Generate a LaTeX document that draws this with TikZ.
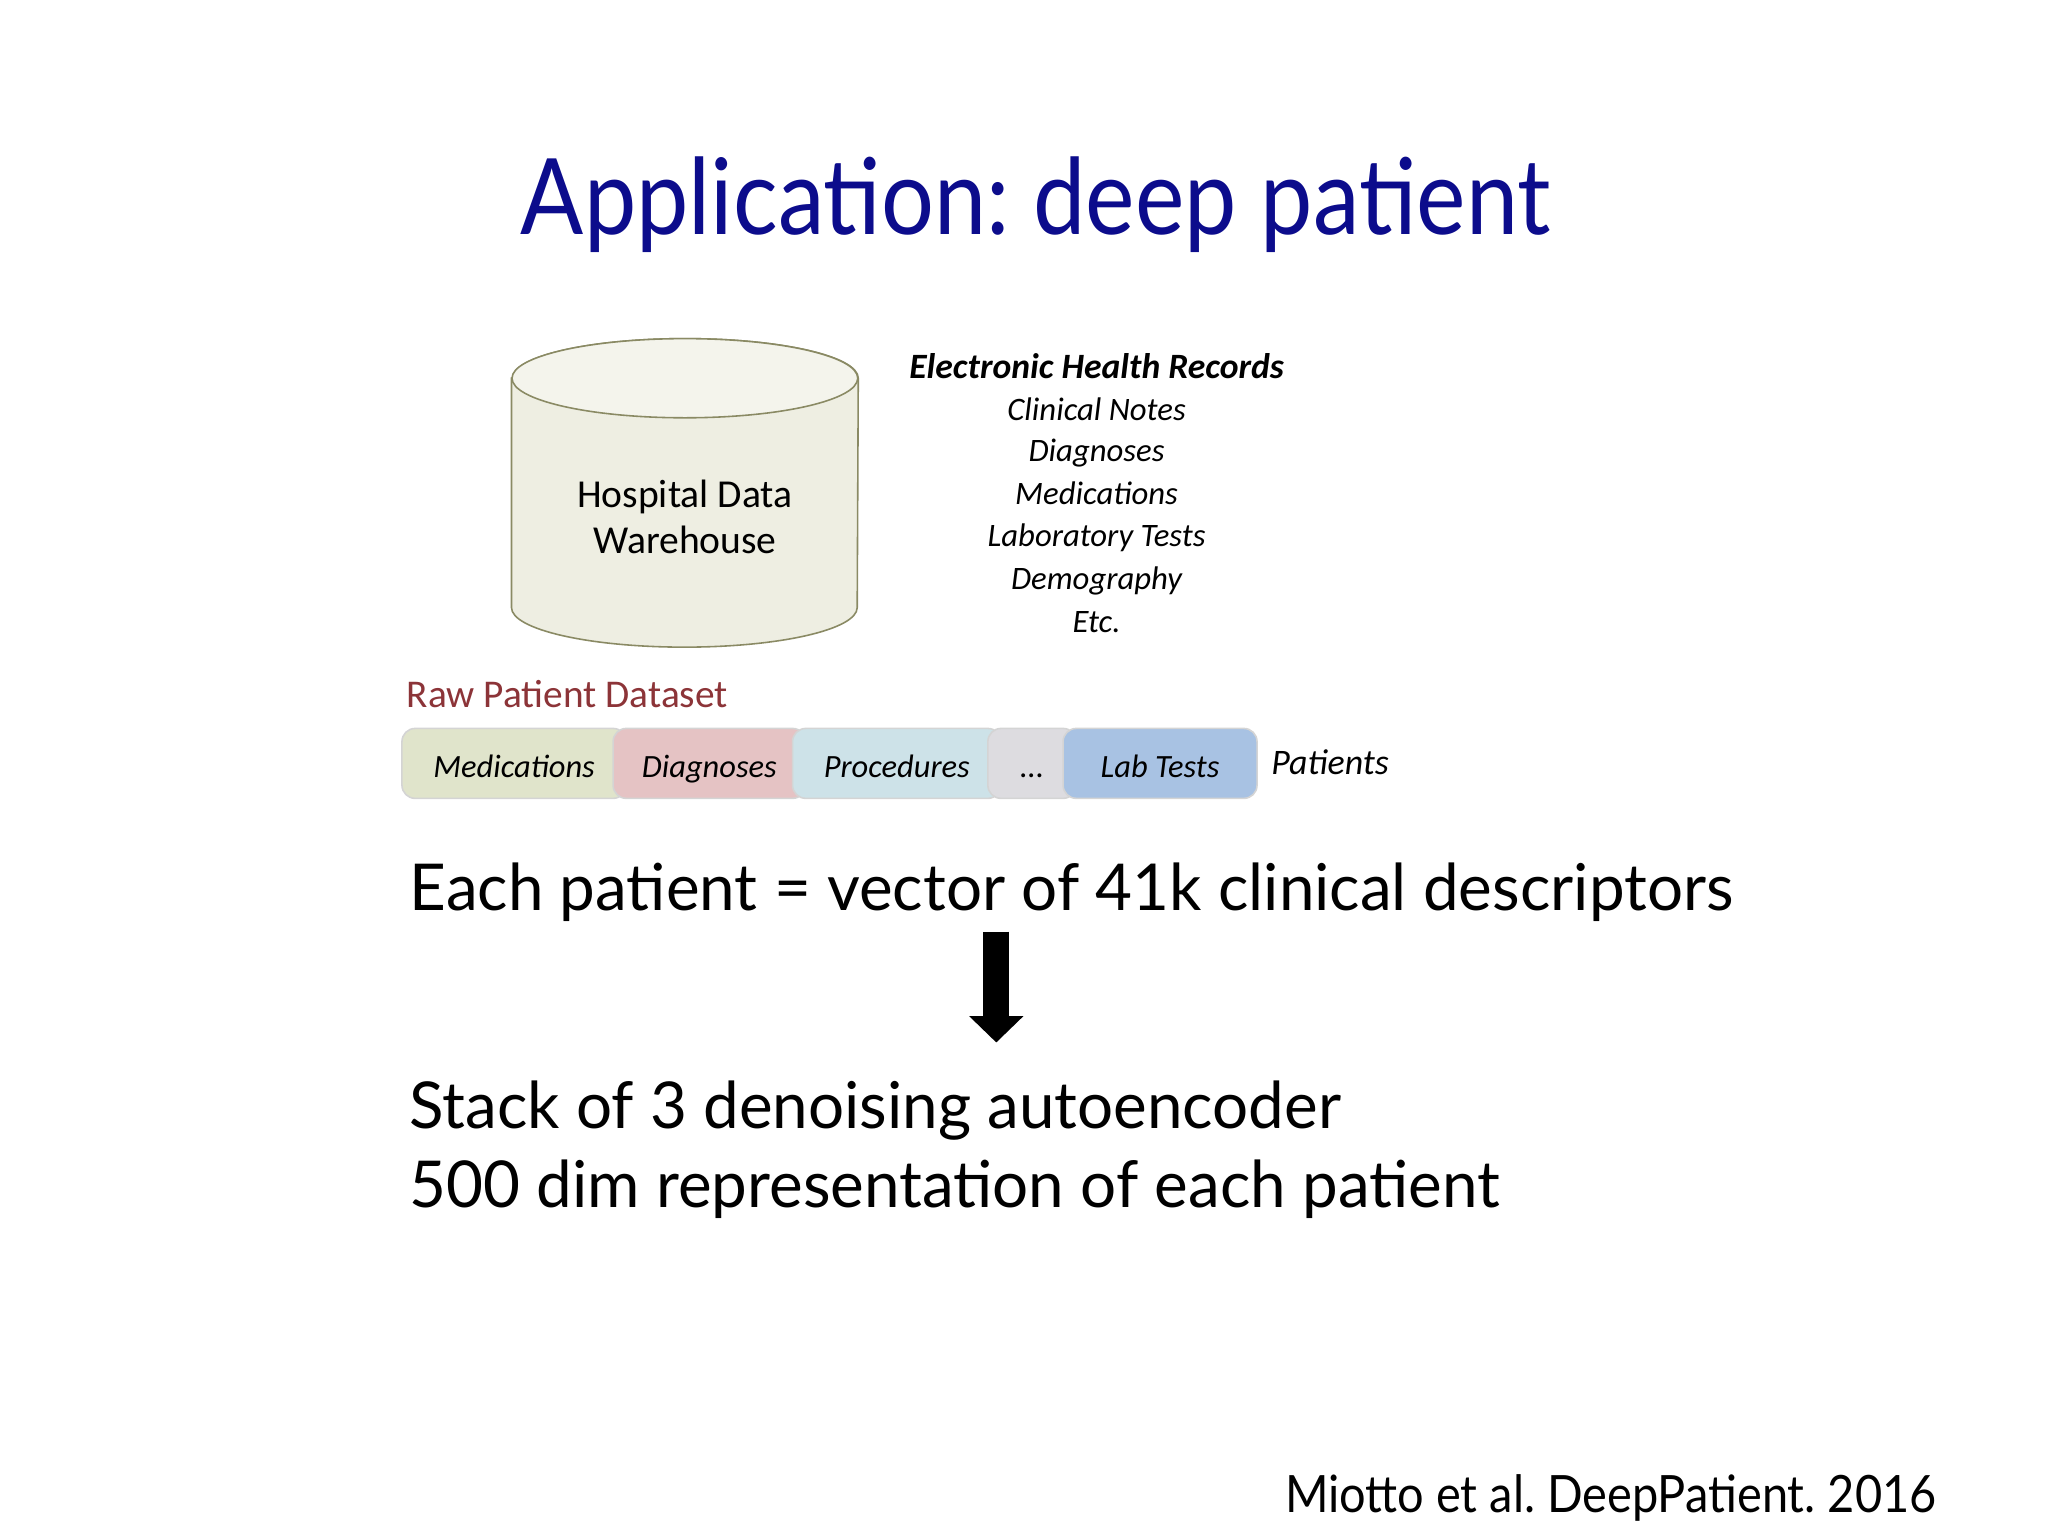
\documentclass[tikz,border=0pt]{standalone}
\usepackage{fontspec}
\setmainfont{Lato}
\newfontfamily\gillsans[FakeStretch=0.885]{Lato}
\newfontfamily\bodyfont[FakeStretch=0.985]{Lato}
\newfontfamily\citefont[FakeStretch=0.912]{Lato}
\newfontfamily\calibri{Carlito}
\usetikzlibrary{arrows.meta}
\definecolor{titleblue}{RGB}{12,12,140}
\definecolor{rawred}{RGB}{140,52,56}
\definecolor{dbfill}{RGB}{238,238,226}
\definecolor{dbtop}{RGB}{244,244,236}
\definecolor{dbline}{RGB}{138,138,100}
\definecolor{segline}{RGB}{212,212,212}
\definecolor{medfill}{RGB}{224,228,203}
\definecolor{diagfill}{RGB}{229,195,196}
\definecolor{procfill}{RGB}{205,226,232}
\definecolor{dotsfill}{RGB}{221,220,224}
\definecolor{labfill}{RGB}{168,194,227}
\tikzstyle{slide text}=[inner sep=0pt, anchor=base west, font=\bodyfont\fontsize{24.5pt}{30pt}\selectfont]
\tikzstyle{record}=[inner sep=0pt, anchor=base, font=\calibri\itshape\fontsize{12.4pt}{15pt}\selectfont]
\tikzstyle{database}=[fill=dbfill, draw=dbline, semithick]
\tikzstyle{segment}=[draw=segline, semithick, rounded corners=5pt, minimum height=26.5pt,
  inner sep=0pt, text height=12.5pt, text depth=1.5pt, anchor=west,
  font=\calibri\itshape\fontsize{12.3pt}{15pt}\selectfont]

\begin{document}
\frenchspacing
\begin{tikzpicture}[x=0.5pt, y=-0.5pt]
      \useasboundingbox (0, 0) rectangle (1552, 1164);
      \node[inner sep=0pt, anchor=base, text=titleblue, font=\gillsans\fontsize{40pt}{48pt}\selectfont]
        (title) at (785, 178) {Application: deep patient};
      % data warehouse and its records
      \node[inner sep=0pt, minimum width=131pt, minimum height=86.5pt] (warehouse) at (519, 373.5) {};
      \filldraw[database] (warehouse.north west) -- (warehouse.south west)
        arc[start angle=180, end angle=360, x radius=65.5pt, y radius=15pt]
        -- (warehouse.north east)
        arc[start angle=0, end angle=180, x radius=65.5pt, y radius=15pt] -- cycle;
      \filldraw[database, fill=dbtop] (warehouse.north) ellipse[x radius=65.5pt, y radius=15pt];
      \node[align=center, inner sep=0pt, font=\calibri\fontsize{15pt}{17.5pt}\selectfont]
        (warehouse text) at (519, 392) {Hospital Data\\Warehouse};
      \node[record, font=\calibri\bfseries\itshape\fontsize{13.5pt}{16pt}\selectfont]
        (ehr) at (831, 287) {Electronic Health Records};
      \foreach \item/\y [count=\i] in {Clinical Notes/319, Diagnoses/350, Medications/382,
          Laboratory Tests/414, Demography/447, Etc./479}
        \node[record] (ehr \i) at (831, \y) {\item};
      % raw patient vector
      \node[inner sep=0pt, anchor=base west, text=rawred, font=\calibri\fontsize{14.9pt}{17pt}\selectfont]
        (raw) at (308, 536) {Raw Patient Dataset};
      \node[segment, fill=medfill, minimum width=85pt] (med) at (304, 578.5) {Medications};
      \node[segment, fill=diagfill, minimum width=73pt] (diag) at (464, 578.5) {Diagnoses};
      \node[segment, fill=procfill, minimum width=79pt] (proc) at (600, 578.5) {Procedures};
      \node[segment, fill=dotsfill, minimum width=33.5pt] (dots) at (748, 578.5) {{.}{.}{.}};
      \node[segment, fill=labfill, minimum width=73.5pt] (lab) at (805, 578.5) {Lab Tests\hspace{7pt}};
      \node[inner sep=0pt, anchor=base west, font=\calibri\itshape\fontsize{13.6pt}{16pt}\selectfont]
        (patients) at (963, 587) {Patients};
      % from descriptors to representation
      \node[slide text] (vector) at (310, 690) {Each patient = vector of 41k clinical descriptors};
      \node[slide text] (stack) at (310, 855) {Stack of 3 denoising autoencoder};
      \node[slide text] (repr) at (310, 915) {500 dim representation of each patient};
      \coordinate (arrow top) at (755, 706);
      \coordinate (arrow tip) at (755, 790);
      \draw[line width=10pt, -{Triangle[width=20pt, length=10pt]}] (arrow top) -- (arrow tip);
      \node[inner sep=0pt, anchor=base east, font=\citefont\fontsize{19.5pt}{24pt}\selectfont]
        (cite) at (1468, 1146) {Miotto et al. DeepPatient. 2016};
    \end{tikzpicture}
\end{document}
